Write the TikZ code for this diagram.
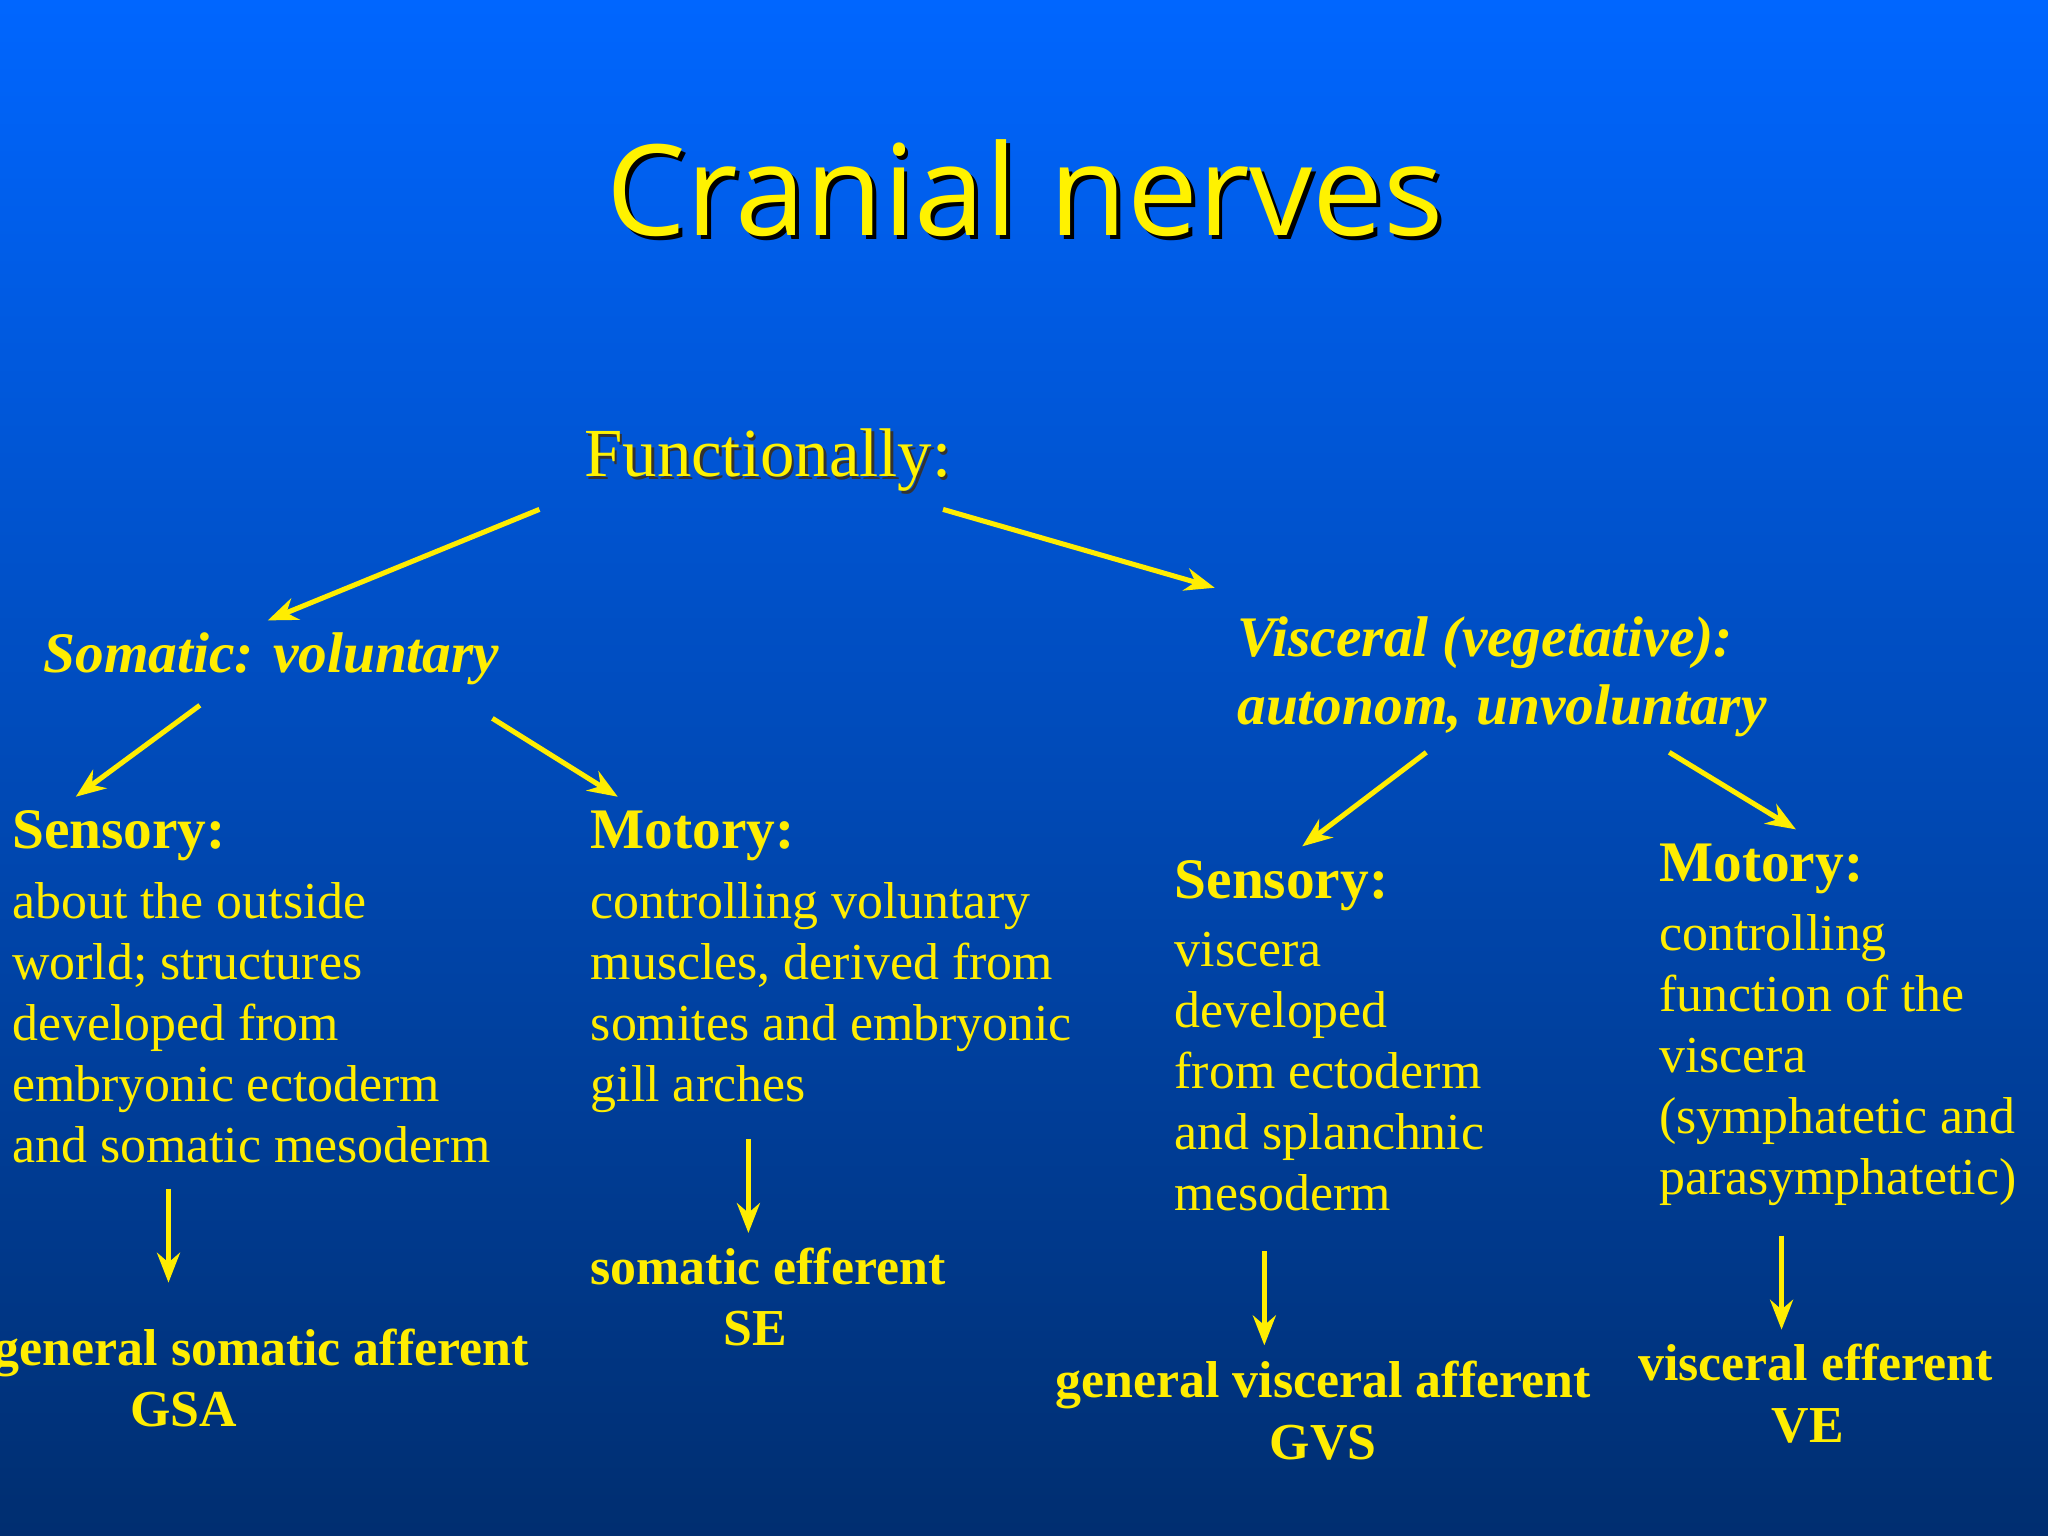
\documentclass[tikz,border=0pt]{standalone}
\usepackage{fontspec}
\setmainfont{Liberation Serif}
\newfontfamily\titlefont{Open Sans}
\tikzset{
  ar/.style={draw=yellow!95!orange, line width=2.2pt, -{Stealth[length=13pt,width=10pt]}},
  txt/.style={text=yellow!95!orange, inner sep=0pt, align=left, font=\fontsize{22.6}{26.6}\selectfont},
  hd/.style={text=yellow!95!orange, inner sep=0pt, font=\bfseries\fontsize{25}{28}\selectfont},
  bot/.style={text=yellow!95!orange, inner sep=0pt, align=center, font=\bfseries\fontsize{22.6}{26.6}\selectfont},
}
\usetikzlibrary{arrows.meta}
\begin{document}
\begin{tikzpicture}[x=0.02cm,y=-0.02cm]
\shade[top color={rgb,255:red,0;green,102;blue,255}, bottom color={rgb,255:red,0;green,46;blue,112}] (0,0) rectangle (1568,1176);
\useasboundingbox (0,0) rectangle (1568,1176);
% title
\node[text=black, font=\titlefont\fontsize{55}{60}\selectfont, anchor=base] at (788,183) {Cranial nerves};
\node (title) [text=yellow, font=\titlefont\fontsize{55}{60}\selectfont, anchor=base] at (785,180) {Cranial nerves};
\node[text=black!80, font=\fontsize{30}{34}\selectfont, anchor=base west, inner sep=0pt] at (449,367) {Functionally:};
\node (fn) [text=yellow, font=\fontsize{30}{34}\selectfont, anchor=base west, inner sep=0pt] at (447,365) {Functionally:};
% level 2
\node (som) [hd, font=\bfseries\itshape\fontsize{25}{28}\selectfont, anchor=base west] at (33,515) {Somatic: voluntary};
\node (vis) [hd, font=\bfseries\itshape\fontsize{25}{28}\selectfont, anchor=base west] at (947,503) {Visceral (vegetative):};
\node (vis2) [hd, font=\bfseries\itshape\fontsize{25}{28}\selectfont, anchor=base west] at (947,555) {autonom, unvoluntary};
\coordinate (a1s) at (413,390); \coordinate (a1e) at (205,475);
\coordinate (a2s) at (722,390); \coordinate (a2e) at (930,450);
\draw[ar] (a1s) -- (a1e);
\draw[ar] (a2s) -- (a2e);
% level 3
\node (s1) [hd, anchor=base west] at (9,650) {Sensory:};
\node (s1t) [txt, anchor=north west] at (9,675) {about the outside\\world; structures\\developed from\\embryonic ectoderm\\and somatic mesoderm};
\node (m1) [hd, anchor=base west] at (452,650) {Motory:};
\node (m1t) [txt, anchor=north west] at (452,675) {controlling voluntary\\muscles, derived from\\somites and embryonic\\gill arches};
\node (s2) [hd, anchor=base west] at (899,688) {Sensory:};
\node (s2t) [txt, anchor=north west] at (899,713) {viscera\\developed\\from ectoderm\\and splanchnic\\mesoderm};
\node (m2) [hd, anchor=base west] at (1270,675) {Motory:};
\node (m2t) [txt, anchor=north west] at (1270,700) {controlling\\function of the\\viscera\\(symphatetic and\\parasymphatetic)};
\coordinate (b1s) at (153,540); \coordinate (b1e) at (58,610);
\coordinate (b2s) at (377,550); \coordinate (b2e) at (473,610);
\coordinate (b3s) at (1092,576); \coordinate (b3e) at (997,648);
\coordinate (b4s) at (1278,576); \coordinate (b4e) at (1375,635);
\draw[ar] (b1s) -- (b1e);
\draw[ar] (b2s) -- (b2e);
\draw[ar] (b3s) -- (b3e);
\draw[ar] (b4s) -- (b4e);
% bottom
\coordinate (c1s) at (129,910); \coordinate (c1e) at (129,982);
\coordinate (c2s) at (573,872); \coordinate (c2e) at (573,944);
\coordinate (c3s) at (968,958); \coordinate (c3e) at (968,1030);
\coordinate (c4s) at (1364,946); \coordinate (c4e) at (1364,1018);
\draw[ar] (c1s) -- (c1e);
\draw[ar] (c2s) -- (c2e);
\draw[ar] (c3s) -- (c3e);
\draw[ar] (c4s) -- (c4e);
\node (g1) [bot, anchor=north] at (200,1017) {general somatic afferent\\\hspace*{-3em}GSA};
\node (g2) [bot, anchor=north] at (588,955) {somatic efferent\\\hspace*{-0.5em}SE};
\node (g3) [bot, anchor=north] at (1013,1042) {general visceral afferent\\GVS};
\node (g4) [bot, anchor=north] at (1390,1029) {visceral efferent\\\hspace*{-0.3em}VE};
\end{tikzpicture}
\end{document}
